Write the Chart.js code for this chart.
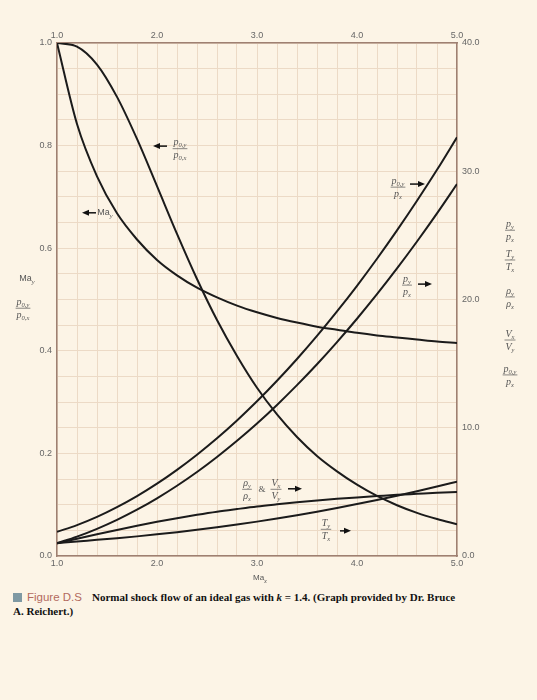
<!DOCTYPE html>
<html>
<head>
<meta charset="utf-8">
<style>
    body { margin: 0; background: #fcf4e6; }
    #wrap { position: relative; width: 537px; height: 588px; }
    .cap { width: 450px; padding-left: 13px; margin-top: 2px; font: bold 11px "Liberation Serif", serif; color: #111; line-height: 14px; }
    .sq { display: inline-block; width: 9px; height: 9px; background: #7f99a3; margin-right: 5px; vertical-align: -1px; }
    .fig { font: normal 11.5px "Liberation Sans", sans-serif; color: #b36a5e; margin-right: 10px; }
</style>
</head>
<body>
<div id="wrap"><canvas id="myChart"></canvas></div>
<div class="cap"><span class="sq"></span><span class="fig">Figure D.S</span>Normal shock flow of an ideal gas with <i>k</i> = 1.4. (Graph provided by Dr. Bruce A. Reichert.)</div>
<script src="https://cdn.jsdelivr.net/npm/chart.js"></script>
<script>
    // upstream Mach number
    const machX = [1.0, 1.2, 1.4, 1.6, 1.8, 2.0, 2.2, 2.4, 2.6, 2.8, 3.0, 3.2, 3.4, 3.6, 3.8, 4.0, 4.2, 4.4, 4.6, 4.8, 5.0];
    // left axis
    const maY = [1.0, 0.842, 0.740, 0.668, 0.617, 0.577, 0.547, 0.523, 0.504, 0.488, 0.475, 0.464, 0.455, 0.447, 0.441, 0.435, 0.430, 0.426, 0.422, 0.418, 0.415];
    const p0yP0x = [1.0, 0.993, 0.958, 0.895, 0.813, 0.721, 0.628, 0.540, 0.460, 0.390, 0.328, 0.276, 0.232, 0.195, 0.165, 0.139, 0.117, 0.099, 0.084, 0.072, 0.062];
    // right axis
    const pyPx = [1.0, 1.51, 2.12, 2.82, 3.61, 4.50, 5.48, 6.55, 7.72, 8.98, 10.33, 11.78, 13.32, 14.95, 16.68, 18.50, 20.41, 22.42, 24.52, 26.71, 29.0];
    const p0yPx = [1.89, 2.41, 3.05, 3.81, 4.67, 5.64, 6.72, 7.90, 9.18, 10.57, 12.06, 13.66, 15.36, 17.16, 19.07, 21.07, 23.18, 25.39, 27.70, 30.11, 32.65];
    const rhoRatio = [1.0, 1.34, 1.69, 2.03, 2.36, 2.67, 2.95, 3.21, 3.45, 3.66, 3.86, 4.03, 4.19, 4.33, 4.46, 4.57, 4.67, 4.77, 4.85, 4.93, 5.0];
    const tempRatio = [1.0, 1.13, 1.26, 1.39, 1.53, 1.69, 1.86, 2.04, 2.24, 2.45, 2.68, 2.92, 3.18, 3.45, 3.74, 4.05, 4.37, 4.70, 5.05, 5.42, 5.8];

    // labelled ticks and grid positions
    const xTicks = [1.0, 2.0, 3.0, 4.0, 5.0];
    const leftTicks = [0.0, 0.2, 0.4, 0.6, 0.8, 1.0];
    const rightTicks = [0.0, 10.0, 20.0, 30.0, 40.0];
    const xGrid = [1.0, 1.2, 1.4, 1.6, 1.8, 2.0, 2.2, 2.4, 2.6, 2.8, 3.0, 3.2, 3.4, 3.6, 3.8, 4.0, 4.2, 4.4, 4.6, 4.8, 5.0];
    const yGrid = [0.0, 0.05, 0.1, 0.15, 0.2, 0.25, 0.3, 0.35, 0.4, 0.45, 0.5, 0.55, 0.6, 0.65, 0.7, 0.75, 0.8, 0.85, 0.9, 0.95, 1.0];

    const gridColor = '#ecdac6';
    const frameColor = '#9e8072';
    const tickColor = '#666';
    const lineColor = '#1b1b1b';

    function pts(ys) {
        return machX.map((x, i) => ({x: x, y: ys[i]}));
    }
    function near(v, list) {
        return list.some(t => Math.abs(t - v) < 1e-6);
    }
    function curve(ys, axis) {
        return {
            data: pts(ys), yAxisID: axis, borderColor: lineColor, borderWidth: 2,
            pointRadius: 0, cubicInterpolationMode: 'monotone', fill: false
        };
    }
    function setTicks(list) {
        return s => { s.ticks = list.map(v => ({value: v})); };
    }

    const baseFont = 'italic 10px "Liberation Serif", serif';
    const subFont = 'italic 6.5px "Liberation Serif", serif';

    // labels drawn on the plot
    function sym(ctx, base, sub, x, y, font) {
        ctx.font = font || baseFont;
        let wb = ctx.measureText(base).width;
        ctx.font = subFont;
        let ws = ctx.measureText(sub).width;
        let x0 = x - (wb + ws) / 2;
        ctx.textAlign = 'left';
        ctx.textBaseline = 'middle';
        ctx.font = font || baseFont;
        ctx.fillText(base, x0, y);
        ctx.font = subFont;
        ctx.fillText(sub, x0 + wb, y + 3);
        return wb + ws;
    }
    function frac(ctx, num, den, x, y) {
        let w1 = sym(ctx, num[0], num[1], x, y - 6);
        let w2 = sym(ctx, den[0], den[1], x, y + 7);
        let w = Math.max(w1, w2) + 2;
        ctx.beginPath();
        ctx.lineWidth = 0.7;
        ctx.moveTo(x - w / 2, y);
        ctx.lineTo(x + w / 2, y);
        ctx.stroke();
    }
    function arrow(ctx, x1, y, x2) {
        let dir = x2 > x1 ? 1 : -1;
        ctx.save();
        ctx.fillStyle = '#111';
        ctx.strokeStyle = '#111';
        ctx.beginPath();
        ctx.lineWidth = 1.5;
        ctx.moveTo(x1, y);
        ctx.lineTo(x2 - dir * 4, y);
        ctx.stroke();
        ctx.beginPath();
        ctx.moveTo(x2, y);
        ctx.lineTo(x2 - dir * 7, y - 3);
        ctx.lineTo(x2 - dir * 7, y + 3);
        ctx.closePath();
        ctx.fill();
        ctx.restore();
    }

    const notes = {
        id: 'notes',
        afterDatasetsDraw(chart) {
            const ctx = chart.ctx;
            const sx = chart.scales.x, sy = chart.scales.y, a = chart.chartArea;
            const X = v => sx.getPixelForValue(v);
            const Y = v => sy.getPixelForValue(v);
            ctx.save();
            ctx.fillStyle = '#555';
            ctx.strokeStyle = '#555';

            arrow(ctx, X(2.10), Y(0.799), X(1.96));
            frac(ctx, ['p', '0,y'], ['p', '0,x'], X(2.23), Y(0.794));

            arrow(ctx, X(1.39), Y(0.669), X(1.25));
            sym(ctx, 'Ma', 'y', X(1.48), Y(0.669), '9px "Liberation Sans", sans-serif');

            frac(ctx, ['p', '0,y'], ['p', 'x'], X(4.41), Y(0.719));
            arrow(ctx, X(4.53), Y(0.725), X(4.68));

            frac(ctx, ['p', 'y'], ['p', 'x'], X(4.50), Y(0.528));
            arrow(ctx, X(4.61), Y(0.530), X(4.75));

            frac(ctx, ['ρ', 'y'], ['ρ', 'x'], X(2.90), Y(0.130));
            ctx.font = '9px "Liberation Serif", serif';
            ctx.textAlign = 'center';
            ctx.fillText('&', X(3.05), Y(0.130));
            frac(ctx, ['V', 'x'], ['V', 'y'], X(3.19), Y(0.130));
            arrow(ctx, X(3.31), Y(0.131), X(3.45));

            frac(ctx, ['T', 'y'], ['T', 'x'], X(3.69), Y(0.052));
            arrow(ctx, X(3.83), Y(0.049), X(3.94));

            // right axis names
            let rx = a.right + 53;
            frac(ctx, ['p', 'y'], ['p', 'x'], rx, Y(0.635));
            frac(ctx, ['T', 'y'], ['T', 'x'], rx, Y(0.577));
            frac(ctx, ['ρ', 'y'], ['ρ', 'x'], rx, Y(0.505));
            frac(ctx, ['V', 'x'], ['V', 'y'], rx, Y(0.421));
            frac(ctx, ['p', '0,y'], ['p', 'x'], rx, Y(0.353));

            // left axis names
            sym(ctx, 'Ma', 'y', a.left - 30, Y(0.540), '9px "Liberation Sans", sans-serif');
            frac(ctx, ['p', '0,y'], ['p', '0,x'], a.left - 34, Y(0.483));

            // bottom axis name
            sym(ctx, 'Ma', 'x', X(3.03), a.bottom + 22, '8px "Liberation Sans", sans-serif');
            ctx.restore();
        }
    };

    const tickFont = {family: '"Liberation Sans", sans-serif', size: 9};

    const config = {
        type: 'line',
        data: {
            datasets: [
                curve(maY, 'y'),
                curve(p0yP0x, 'y'),
                curve(p0yPx, 'y2'),
                curve(pyPx, 'y2'),
                curve(rhoRatio, 'y2'),
                curve(tempRatio, 'y2'),
            ],
        },
        options: {
            responsive: true,
            maintainAspectRatio: false,
            animation: false,
            layout: {padding: 0},
            plugins: {legend: {display: false}, tooltip: {enabled: false}},
            scales: {
                x: {
                    type: 'linear', position: 'bottom', min: 1, max: 5,
                    afterBuildTicks: setTicks(xGrid),
                    ticks: {autoSkip: false, maxRotation: 0, color: tickColor, font: tickFont, padding: 2,
                        callback: v => near(v, xTicks) ? v.toFixed(1) : ''},
                    grid: {color: gridColor, drawTicks: false},
                    border: {color: frameColor, width: 1.5},
                    afterFit: s => { s.height = 32; },
                },
                x2: {
                    type: 'linear', position: 'top', min: 1, max: 5,
                    afterBuildTicks: setTicks(xTicks),
                    ticks: {autoSkip: false, maxRotation: 0, color: tickColor, font: tickFont, padding: 2,
                        callback: v => v.toFixed(1)},
                    grid: {drawOnChartArea: false, drawTicks: false},
                    border: {color: frameColor, width: 1.5},
                    afterFit: s => { s.height = 43; },
                },
                y: {
                    type: 'linear', position: 'left', min: 0, max: 1,
                    afterBuildTicks: setTicks(yGrid),
                    ticks: {autoSkip: false, color: tickColor, font: tickFont, padding: 5,
                        callback: v => near(v, leftTicks) ? v.toFixed(1) : ''},
                    grid: {color: gridColor, drawTicks: false},
                    border: {color: frameColor, width: 1.5},
                    afterFit: s => { s.width = 57; },
                },
                y2: {
                    type: 'linear', position: 'right', min: 0, max: 40,
                    afterBuildTicks: setTicks(rightTicks),
                    ticks: {autoSkip: false, color: tickColor, font: tickFont, padding: 5,
                        callback: v => v.toFixed(1)},
                    grid: {drawOnChartArea: false, drawTicks: false},
                    border: {color: frameColor, width: 1.5},
                    afterFit: s => { s.width = 80; },
                },
            },
        },
        plugins: [notes],
    };

    new Chart(document.getElementById('myChart'), config);
</script>
</body>
</html>
